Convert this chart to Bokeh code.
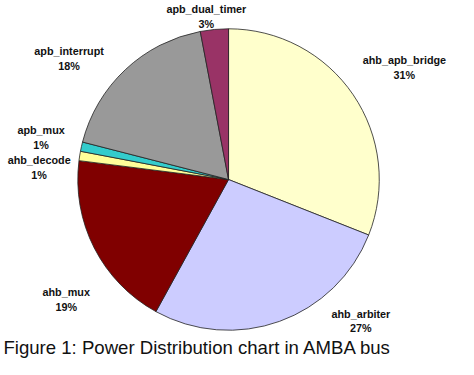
import numpy as np
from bokeh.plotting import figure
from bokeh.models import ColumnDataSource, Range1d, Label
from bokeh.core.properties import value
from bokeh.embed import file_html
from bokeh.resources import INLINE

# ---- data ----
components = ["ahb_apb_bridge", "ahb_arbiter", "ahb_mux", "ahb_decode",
              "apb_mux", "apb_interrupt", "apb_dual_timer"]
shares = [31, 27, 19, 1, 1, 18, 3]
colors = ["#FFFFCC", "#CCCCFF", "#800000", "#FFFF99",
          "#33CCCC", "#999999", "#993366"]
caption = "Figure 1: Power Distribution chart in AMBA bus"

# ---- layout (reference pixel coordinates, y measured from top) ----
REF_W, REF_H = 474, 375
label_x = [418, 373, 68, 40, 42, 71, 213]
label_y = [62, 327, 305, 167, 135, 53, 9]
center = (236, 187)
radius = 156

W, H = 458, 359
p = figure(width=W, height=H, output_backend="svg", toolbar_location=None,
           x_range=Range1d(0, REF_W), y_range=Range1d(0, REF_H),
           min_border=0)
p.axis.visible = False
p.grid.visible = False
p.outline_line_color = None
p.background_fill_color = "white"
p.border_fill_color = "white"

frac = np.cumsum([0] + shares) / float(sum(shares))
start = np.pi / 2 - frac[:-1] * 2 * np.pi
end = np.pi / 2 - frac[1:] * 2 * np.pi

src = ColumnDataSource(dict(
    x=[center[0]] * len(shares), y=[REF_H - center[1]] * len(shares),
    start=start, end=end, color=colors, name=components,
    pct=[f"{s}%" for s in shares],
    lx=label_x, ly=[REF_H - v for v in label_y],
    ly2=[REF_H - v - 15.5 for v in label_y],
))

p.wedge(x="x", y="y", radius=radius, radius_units="data",
        start_angle="start", end_angle="end", direction="clock",
        fill_color="color", line_color="#222222", line_width=0.8, source=src)

p.text(x="lx", y="ly", text="name", source=src, text_align="center",
       text_baseline="middle", text_font=value("Liberation Sans"),
       text_font_style="bold", text_font_size="10.8px", text_color="#111111")
p.text(x="lx", y="ly2", text="pct", source=src, text_align="center",
       text_baseline="middle", text_font=value("Liberation Sans"),
       text_font_style="bold", text_font_size="10.8px", text_color="#111111")

p.add_layout(Label(x=3, y=REF_H - 362, text=caption, text_font="Liberation Sans",
                   text_font_size="18.6px", text_color="#111111",
                   text_baseline="alphabetic", text_align="left"))

open("out.html", "w").write(file_html(p, INLINE))
